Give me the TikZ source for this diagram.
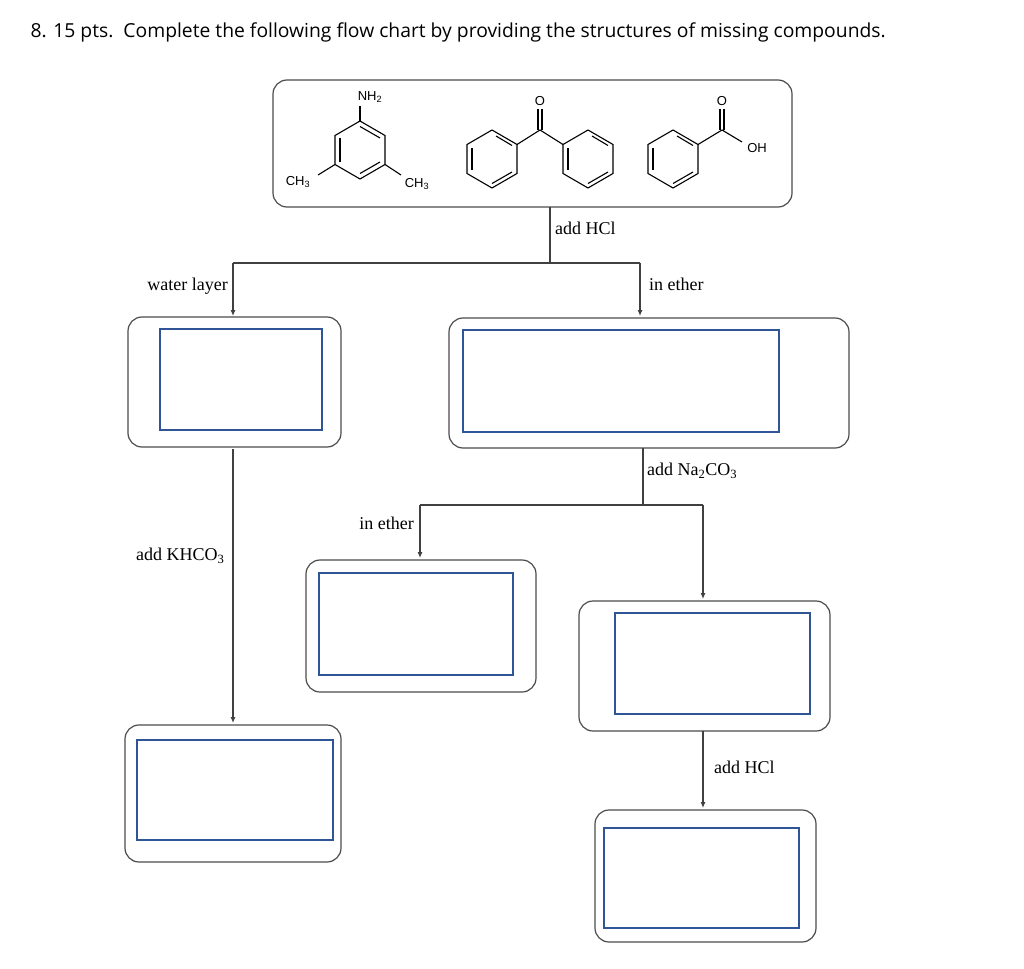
\documentclass[tikz,border=0pt]{standalone}
\usepackage{fontspec}
\setmainfont{Liberation Serif}
\newfontfamily\ttl{Open Sans}
\newfontfamily\chem{Liberation Sans}
\definecolor{boxblue}{HTML}{2F5597}
\begin{document}
\begin{tikzpicture}[x=1pt,y=-1pt,
 outer/.style={draw=black!70,line width=1.2pt,rounded corners=14pt},
 inner/.style={draw=boxblue,line width=1.8pt},
 conn/.style={draw=black!75,line width=1.1pt},
 arr/.style={conn,-{Latex[length=6pt,width=5pt]}},
 lbl/.style={font=\fontsize{18}{18}\selectfont,inner sep=1pt},
 bond/.style={line width=1.1pt},
 atom/.style={font=\chem\fontsize{13}{13}\selectfont,inner sep=0.5pt}]
\usetikzlibrary{arrows.meta}
\useasboundingbox (0,0) rectangle (1024,968);
\node[anchor=west,font=\ttl\fontsize{19.3}{20}\selectfont] (title) at (27,32) {8. 15 pts.\ \ Complete the following flow chart by providing the structures of missing compounds.};
% start box
\draw[outer] (273,80) rectangle (792,207);
% aniline
\begin{scope}[bond]
\draw (360,121)--(385,135.5)--(385,164.5)--(360,179)--(335,164.5)--(335,135.5)--cycle;
\draw (340,138)--(340,162); \draw (380,162)--(360,173.5); \draw (380,138)--(360,126.5);
\draw (360,121)--(360,106);
\draw (335,164.5)--(318,175);
\draw (385,164.5)--(401,175);
\end{scope}
\node[atom] (nh2) at (370,97) {NH\textsubscript{2}};
\node[atom] (ch3a) at (298,182) {CH\textsubscript{3}};
\node[atom] (ch3b) at (417,184) {CH\textsubscript{3}};
% benzophenone
\begin{scope}[bond]
\foreach \c in {492,588,673}{
 \draw (\c,130)--(\c+25,144.5)--(\c+25,173.5)--(\c,188)--(\c-25,173.5)--(\c-25,144.5)--cycle;
 \draw (\c+4,136)--(\c+20,145.5); \draw (\c+20,172)--(\c,183.5); \draw (\c-20,148)--(\c-20,170);}
\draw (517,144.5)--(540,130)--(563,144.5);
\draw (538,130)--(538,109); \draw (542,130)--(542,109);
\draw (698,144.5)--(722,130)--(742,142);
\draw (720,130)--(720,109); \draw (724,130)--(724,109);
\end{scope}
\node[atom] (o1) at (540,101) {O};
\node[atom] (o2) at (722,101) {O};
\node[atom] (oh) at (757,148) {OH};
% connectors
\coordinate (j1) at (550,263);
\coordinate (l1) at (233,263);
\coordinate (r1) at (640,263);
\draw[conn] (550,207)--(j1);
\draw[conn] (l1)--(r1);
\draw[arr] (l1)--(233,316);
\draw[arr] (r1)--(640,316);
\node[lbl,anchor=west] (t1) at (554,228) {add HCl};
\node[lbl,anchor=east] (t2) at (229,286) {water layer};
\node[lbl,anchor=west] (t3) at (648,284) {in ether};
% box A
\draw[outer] (128,317) rectangle (341,447);
\draw[inner] (160,329) rectangle (322,430);
\draw[arr] (233,449)--(233,723);
\node[lbl,anchor=west] (t4) at (135,556) {add KHCO\textsubscript{3}};
% box B
\draw[outer] (449,318) rectangle (849,448);
\draw[inner] (463,330) rectangle (779,432);
\coordinate (j2) at (643,505);
\draw[conn] (643,448)--(j2);
\node[lbl,anchor=west] (t5) at (646,471) {add Na\textsubscript{2}CO\textsubscript{3}};
\draw[conn] (420,505)--(703,505);
\draw[arr] (420,505)--(420,558);
\draw[arr] (703,505)--(703,599);
\node[lbl,anchor=east] (t6) at (415,523) {in ether};
% box C
\draw[outer] (306,560) rectangle (536,692);
\draw[inner] (319,573) rectangle (513,675);
% box D
\draw[outer] (579,601) rectangle (830,731);
\draw[inner] (615,613) rectangle (810,714);
\draw[arr] (703,731)--(703,808);
\node[lbl,anchor=west] (t7) at (713,767) {add HCl};
% box E
\draw[outer] (595,810) rectangle (816,942);
\draw[inner] (604,828) rectangle (799,928);
% box F
\draw[outer] (125,725) rectangle (341,862);
\draw[inner] (137,740) rectangle (333,840);
\end{tikzpicture}
\end{document}
